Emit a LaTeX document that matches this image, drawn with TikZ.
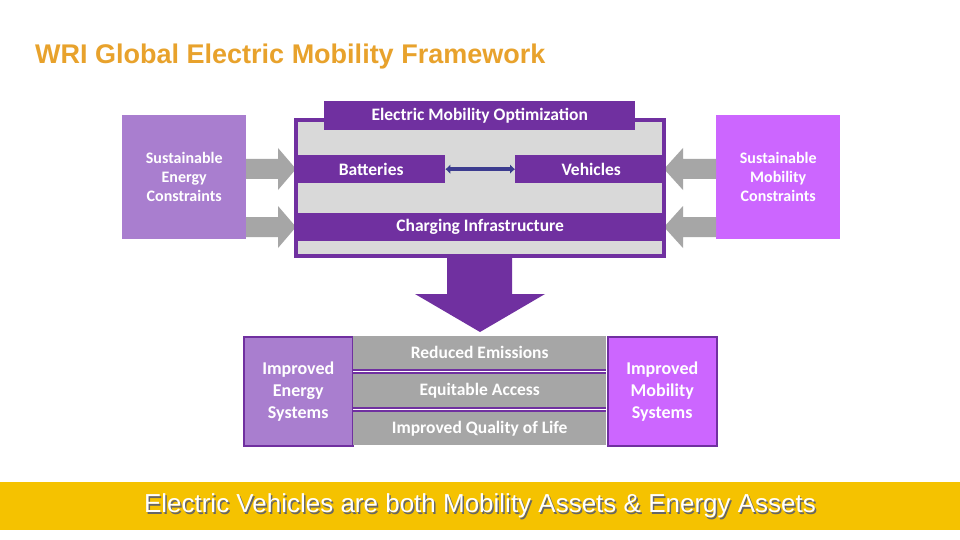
\documentclass[tikz,border=0pt]{standalone}
\usepackage{fontspec}
\setmainfont{Carlito}
\newfontfamily\arialf{Liberation Sans}
\usetikzlibrary{arrows.meta}
\definecolor{pur}{HTML}{7030A0}
\definecolor{lgr}{HTML}{D9D9D9}
\definecolor{mgr}{HTML}{A6A6A6}
\definecolor{lav}{HTML}{A97ECF}
\definecolor{vio}{HTML}{CC66FF}
\definecolor{gold}{HTML}{E8A22C}
\definecolor{yel}{HTML}{F5C200}
\definecolor{dblue}{HTML}{3C3C8F}
\begin{document}
\begin{tikzpicture}[x=1pt,y=-1pt,
  bar/.style={fill=pur,draw=none,text=white,font=\bfseries\fontsize{17.5}{20}\selectfont},
  side/.style={draw=none,text=white,font=\bfseries\fontsize{16}{19}\selectfont,align=center},
  low/.style={text=white,font=\bfseries\fontsize{18}{22}\selectfont,align=center},
  mid/.style={text=white,fill=mgr,minimum width=253pt,minimum height=33pt,anchor=north west,font=\bfseries\fontsize{17.5}{20}\selectfont}]
\useasboundingbox (0,0) rectangle (960,540);
\fill[white] (0,0) rectangle (960,540);
\node[anchor=west,text=gold,font=\arialf\bfseries\fontsize{27}{32}\selectfont,inner sep=0pt] (title) at (35,57) {WRI Global Electric Mobility Framework};
% side boxes
\node[side,fill=lav,minimum width=124pt,minimum height=124pt,anchor=north west] (sec) at (122,115) {Sustainable\\Energy\\Constraints};
\node[side,fill=vio,minimum width=124pt,minimum height=124pt,anchor=north west] (smc) at (716,115) {Sustainable\\Mobility\\Constraints};
% gray block arrows
\foreach \yy in {169,227}{
  \fill[mgr] (246,\yy-10) -- (278,\yy-10) -- (278,\yy-21) -- (296,\yy) -- (278,\yy+21) -- (278,\yy+10) -- (246,\yy+10) -- cycle;
  \fill[mgr] (716,\yy-10) -- (683,\yy-10) -- (683,\yy-21) -- (664,\yy) -- (683,\yy+21) -- (683,\yy+10) -- (716,\yy+10) -- cycle;
}
% frame
\draw[pur,line width=4pt,fill=lgr] (296,120) rectangle (664,256);
\node[bar,minimum width=311pt,minimum height=29pt,anchor=north west] (emo) at (324,101) {Electric Mobility Optimization};
\node[bar,minimum width=148pt,minimum height=28pt,anchor=north west] (bat) at (297,155) {Batteries};
\node[bar,minimum width=148pt,minimum height=28pt,anchor=north west] (veh) at (515,155) {\hspace*{4pt}Vehicles};
\draw[{Latex[length=5pt,width=10pt]}-{Latex[length=5pt,width=10pt]},dblue,line width=4.5pt] (bat.east) -- (veh.west);
\node[bar,minimum width=366pt,minimum height=28pt,anchor=north west] (chg) at (297,213) {Charging Infrastructure};
% down arrow
\fill[pur] (447,256) -- (512,256) -- (512,294) -- (545,294) -- (480,332) -- (415,294) -- (447,294) -- cycle;
% bottom row
\node[low,fill=lav,draw=pur,line width=1.5pt,minimum width=109pt,minimum height=109pt,anchor=north west] (ies) at (243,336) {Improved\\Energy\\Systems};
\node[low,fill=vio,draw=pur,line width=1.5pt,minimum width=109pt,minimum height=109pt,anchor=north west] (ims) at (607,336) {Improved\\Mobility\\Systems};
\fill[pur] (353,336) rectangle (606,445);
\node[mid] (red) at (353,336) {Reduced Emissions};
\node[mid] (eq) at (353,374) {Equitable Access};
\node[mid] (iql) at (353,412) {\raisebox{-5pt}{Improved Quality of Life}};
\draw[white,line width=1pt] (353,371.5) -- (606,371.5);
\draw[white,line width=1pt] (353,409.5) -- (606,409.5);
% band
\fill[yel] (0,482) rectangle (960,530);
\node[text=black!60,font=\arialf\fontsize{26}{30}\selectfont] (bs) at (481.5,507.5) {Electric Vehicles are both Mobility Assets \& Energy Assets};
\node[text=white,font=\arialf\fontsize{26}{30}\selectfont] (band) at (480,506) {Electric Vehicles are both Mobility Assets \& Energy Assets};
\end{tikzpicture}
\end{document}
